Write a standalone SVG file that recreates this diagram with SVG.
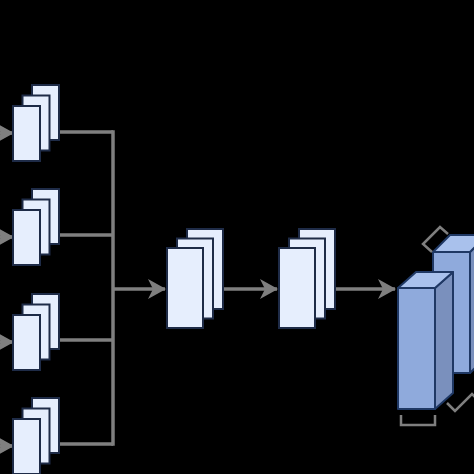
<svg xmlns="http://www.w3.org/2000/svg" width="474" height="474" viewBox="0 0 474 474">
<defs>
<style>
.fm{fill:#E6EEFD;stroke:#1E2B47;stroke-width:2}
.ln{fill:none;stroke:#7F7F7F;stroke-width:3.5}
.br{fill:none;stroke:#7F7F7F;stroke-width:2.5}
.front{fill:#8FAADC;stroke:#1F3864;stroke-width:2;stroke-linejoin:round}
.top{fill:#A9C1EC;stroke:#1F3864;stroke-width:2;stroke-linejoin:round}
.side{fill:#7A90BD;stroke:#1F3864;stroke-width:2;stroke-linejoin:round}
</style>
<marker id="ah" viewBox="0 0 18 20" refX="17" refY="10" markerWidth="18" markerHeight="20" markerUnits="userSpaceOnUse" orient="auto">
<path d="M0,0 L18,10 L0,20 L5,10 Z" fill="#7F7F7F"/>
</marker>
<g id="stack">
<rect class="fm" x="19" y="-21" width="27" height="55"/>
<rect class="fm" x="9.5" y="-10.5" width="27" height="55"/>
<rect class="fm" x="0" y="0" width="27" height="55"/>
</g>
<g id="stackL">
<rect class="fm" x="20" y="-19" width="36" height="80"/>
<rect class="fm" x="10" y="-9.5" width="36" height="80"/>
<rect class="fm" x="0" y="0" width="36" height="80"/>
</g>
</defs>
<rect x="0" y="0" width="474" height="474" fill="#000000"/>
<g id="connectors">
<line class="ln" x1="-20" y1="133" x2="13" y2="133" marker-end="url(#ah)"/>
<line class="ln" x1="-20" y1="237" x2="13" y2="237" marker-end="url(#ah)"/>
<line class="ln" x1="-20" y1="342" x2="13" y2="342" marker-end="url(#ah)"/>
<line class="ln" x1="-20" y1="446" x2="13" y2="446" marker-end="url(#ah)"/>
<polyline class="ln" points="59,132 113,132"/>
<polyline class="ln" points="59,235 113,235"/>
<polyline class="ln" points="59,340 113,340"/>
<polyline class="ln" points="59,444 113,444"/>
<line class="ln" x1="113" y1="130.3" x2="113" y2="445.7"/>
<line class="ln" x1="113" y1="289" x2="165" y2="289" marker-end="url(#ah)"/>
<line class="ln" x1="223" y1="289" x2="277" y2="289" marker-end="url(#ah)"/>
<line class="ln" x1="334" y1="289" x2="395" y2="289" marker-end="url(#ah)"/>
</g>
<g id="input1"><use href="#stack" x="13" y="106"/></g>
<g id="input2"><use href="#stack" x="13" y="210"/></g>
<g id="input3"><use href="#stack" x="13" y="315"/></g>
<g id="input4"><use href="#stack" x="13" y="419"/></g>
<g id="feature1"><use href="#stackL" x="167" y="248"/></g>
<g id="feature2"><use href="#stackL" x="279" y="248"/></g>
<g id="box-back">
<polygon class="side" points="470,252 487,235 487,356 470,373"/>
<polygon class="top" points="433,252 450,235 487,235 470,252"/>
<rect class="front" x="433" y="252" width="37" height="121"/>
<polyline class="br" points="432,252 423,244 440,227 448,234"/>
<polyline class="br" points="447,403 455,411 472,394 480,402"/>
</g>
<g id="box-front">
<polygon class="side" points="435,288 453,272 453,393 435,409"/>
<polygon class="top" points="398,288 416,272 453,272 435,288"/>
<rect class="front" x="398" y="288" width="37" height="121"/>
<polyline class="br" points="401,415 401,425 435,425 435,415"/>
</g>
</svg>
